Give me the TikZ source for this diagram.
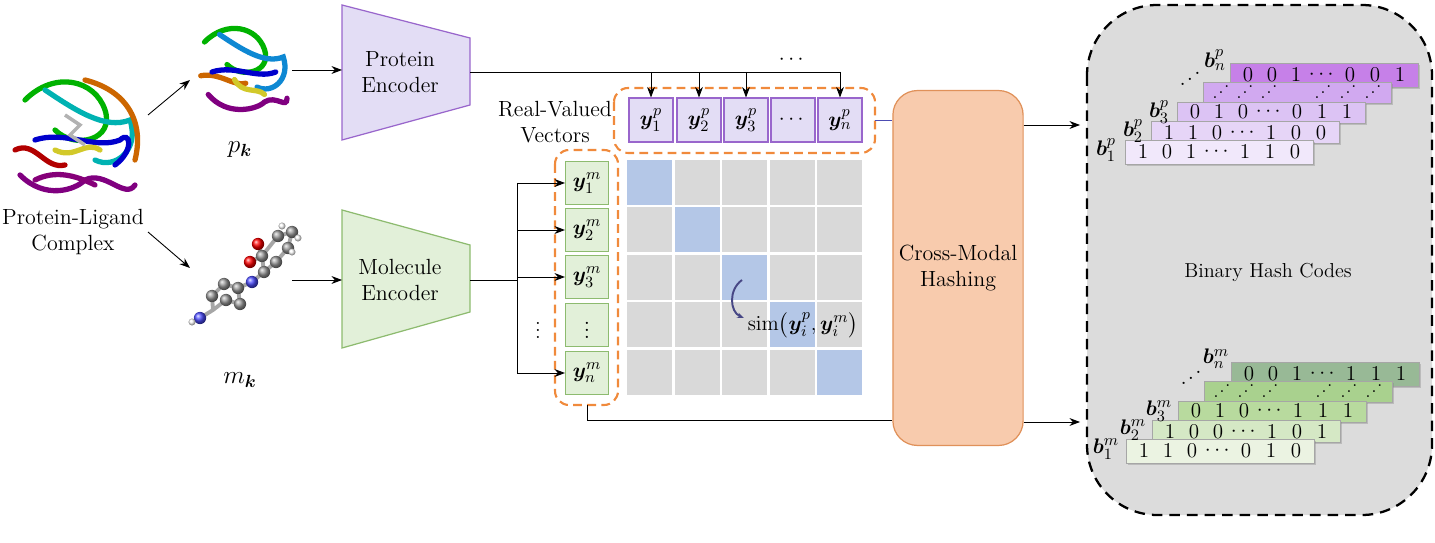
\documentclass[tikz,border=0pt]{standalone}
\usepackage{amsmath,bm}
\usetikzlibrary{arrows.meta,shadows,calc}
\definecolor{plav}{HTML}{E3DDF5}\definecolor{pstr}{HTML}{9966CC}
\definecolor{glav}{HTML}{E2F0D9}\definecolor{gstr}{HTML}{8DBB6F}
\definecolor{cell}{HTML}{D9D9D9}\definecolor{diag}{HTML}{B4C7E7}
\definecolor{orng}{HTML}{F08A3C}\definecolor{cmh}{HTML}{F8CBAD}\definecolor{cmhs}{HTML}{E0915A}
\definecolor{bg}{HTML}{DCDCDC}
\definecolor{pa}{HTML}{F1E8FB}\definecolor{pb}{HTML}{E6D5F7}\definecolor{pc}{HTML}{DCC3F4}\definecolor{pd}{HTML}{D1A9F0}\definecolor{pe}{HTML}{C680E8}
\definecolor{ma}{HTML}{EBF3E2}\definecolor{mb}{HTML}{D5E8C5}\definecolor{mc}{HTML}{B8DA9E}\definecolor{md}{HTML}{A9D18E}\definecolor{me}{HTML}{98B996}
\tikzset{
 x=0.02cm,y=-0.02cm,
 arr/.style={-{Stealth[length=6pt,width=4.5pt]},line width=0.5pt},
 ln/.style={line width=0.5pt},
 pv/.style={draw=pstr,fill=plav,line width=0.6pt,minimum width=0.88cm,minimum height=0.88cm,inner sep=0pt,font=\fontsize{13}{15}\selectfont},
 mv/.style={draw=gstr,fill=glav,line width=0.6pt,minimum width=0.86cm,minimum height=0.86cm,inner sep=0pt,font=\fontsize{13}{15}\selectfont},
 grp/.style={draw=orng,dashed,dash pattern=on 5pt off 3pt,line width=1.2pt,rounded corners=8pt},
 lab/.style={font=\fontsize{12.5}{15}\selectfont,align=center},
 bar/.style={draw=gray!70,line width=0.4pt,drop shadow={shadow xshift=1pt,shadow yshift=-1pt,opacity=0.35}},
 bit/.style={font=\fontsize{12}{14}\selectfont,inner sep=0pt},
 blab/.style={font=\fontsize{13}{15}\selectfont,inner sep=0pt},
 rib/.style={line width=3pt,line cap=round},
 atom/.style={circle,inner sep=0pt,minimum size=7pt,shading=ball},
}
\DeclareRobustCommand{\myiddots}{\mathinner{\raise1pt\hbox{.}\mkern1mu\raise4pt\hbox{.}\mkern1mu\raise7pt\hbox{.}}}
\newcommand{\bitrow}[4]{% left x, top y, name, bits
 \foreach \b [count=\k] in {#4}{
  \pgfmathsetmacro{\off}{{0,18,42,66,93,120,145,170}[\k]}
  \node[bit] (#3-\k) at (#1+\off,#2+12) {$\b$};}}
\newcommand{\dotrow}[3]{%
 \foreach \off [count=\k] in {18,42,66,120,145,170}{
  \node[bit,font=\fontsize{10}{11}\selectfont] (#3-\k) at (#1+\off,#2+11) {$\myiddots$};}}
\begin{document}
\begin{tikzpicture}
\useasboundingbox (0,0) rectangle (1435,543);
% ---------- Protein-ligand complex image ----------
\begin{scope}[shift={(75,140)}]
 \coordinate (cplx) at (0,0);
 \draw[rib,green!70!black] (-50,-40) .. controls (-20,-70) and (20,-60) .. (30,-30) .. controls (40,0) and (0,10) .. (-20,-10);
 \draw[rib,teal!60!cyan] (-30,-50) .. controls (0,-30) and (30,-10) .. (55,-20) .. controls (65,10) and (40,30) .. (20,20);
 \draw[rib,orange!80!black] (10,-60) .. controls (50,-50) and (70,-20) .. (60,20);
 \draw[rib,blue!80!black] (-40,0) .. controls (-10,-10) and (20,10) .. (45,0) .. controls (55,-10) and (60,10) .. (40,25);
 \draw[rib,red!70!black] (-60,10) .. controls (-40,0) and (-30,30) .. (-10,25);
 \draw[rib,yellow!80!black] (-20,10) .. controls (0,20) and (10,0) .. (25,10);
 \draw[rib,violet] (-55,35) .. controls (-30,60) and (0,50) .. (10,40) .. controls (30,30) and (50,60) .. (60,45);
 \draw[rib,purple!70!blue] (-40,40) .. controls (-20,30) and (0,35) .. (20,45);
 \draw[line width=2pt,gray!60] (-10,-25) -- (5,-15) -- (-5,-5) -- (10,5);
\end{scope}
\node[lab] (cplxlab) at (73,232) {Protein-Ligand\\Complex};
% ---------- p_k image ----------
\begin{scope}[shift={(242,72)},scale=0.75]
 \coordinate (pimg) at (0,0);
 \draw[rib,green!70!black] (-50,-40) .. controls (-20,-70) and (20,-60) .. (30,-30) .. controls (40,0) and (0,10) .. (-20,-10);
 \draw[rib,cyan!70!blue] (-30,-50) .. controls (0,-30) and (30,-10) .. (55,-20) .. controls (65,10) and (40,30) .. (20,20);
 \draw[rib,orange!80!black] (-55,5) .. controls (-30,0) and (-10,20) .. (5,15);
 \draw[rib,blue!80!black] (-40,0) .. controls (-10,-10) and (20,10) .. (45,0);
 \draw[rib,yellow!80!black] (-10,10) .. controls (0,30) and (20,20) .. (30,30);
 \draw[rib,violet] (-45,30) .. controls (-20,60) and (20,50) .. (30,40) .. controls (45,30) and (60,50) .. (60,35);
\end{scope}
\node[font=\fontsize{14}{16}\selectfont] (pk) at (240,150) {$p_{\bm k}$};
% ---------- molecule image ----------
\coordinate (a1) at (200,318);\coordinate (a2) at (213,310);\coordinate (a3) at (226,300);
\coordinate (a4) at (240,304);\coordinate (a5) at (238,288);\coordinate (a6) at (224,284);\coordinate (a7) at (212,296);
\coordinate (a8) at (252,282);\coordinate (a9) at (264,272);\coordinate (a10) at (262,256);\coordinate (a11) at (276,262);
\coordinate (a12) at (288,248);\coordinate (a13) at (278,236);\coordinate (a14) at (292,232);\coordinate (a15) at (250,262);\coordinate (a16) at (258,244);
\draw[line width=2.2pt,gray!70] (a1)--(a2)--(a3)--(a4)--(a5)--(a6)--(a7)--(a2) (a5)--(a8)--(a9)--(a10)--(a13)--(a14) (a9)--(a11)--(a12)--(a14) (a10)--(a15) (a10)--(a16);
\foreach \c in {a3,a4,a5,a6,a7,a9,a10,a11,a12,a13,a14} \node[atom,ball color=gray!80] at (\c) {};
\node[atom,ball color=blue!70] at (a1) {};\node[atom,ball color=blue!70] at (a8) {};
\node[atom,ball color=red] at (a15) {};\node[atom,ball color=red] at (a16) {};
\node[atom,ball color=white,minimum size=4pt] at (292,252) {};\node[atom,ball color=white,minimum size=4pt] at (298,238) {};
\node[atom,ball color=white,minimum size=4pt] at (282,226) {};\node[atom,ball color=white,minimum size=4pt] at (192,322) {};
\coordinate (mimg) at (245,280);
\node[font=\fontsize{14}{16}\selectfont] (mk) at (240,380) {$m_{\bm k}$};
% arrows left
\coordinate (c1) at (148,115);\coordinate (c2) at (190,80);\coordinate (c3) at (148,232);\coordinate (c4) at (190,268);
\draw[arr] (c1) -- (c2); \draw[arr] (c3) -- (c4);
\coordinate (p1) at (292,70);\coordinate (m1) at (292,280);
% ---------- encoders ----------
\draw[draw=pstr,fill=plav,line width=0.7pt] (342,5) -- (470,38) -- (470,105) -- (342,140) -- cycle;
\node[lab] (penc) at (400,72) {Protein\\Encoder};
\draw[draw=gstr,fill=glav,line width=0.7pt] (342,210) -- (470,245) -- (470,312) -- (342,348) -- cycle;
\node[lab] (menc) at (400,280) {Molecule\\Encoder};
\coordinate (pin) at (342,70);\coordinate (min) at (342,280);
\draw[arr] (p1) -- (pin); \draw[arr] (m1) -- (min);
% ---------- y^p ----------
\node[pv] (yp1) at (651,120) {$\bm y^{p}_{1}$};
\node[pv] (yp2) at (699,120) {$\bm y^{p}_{2}$};
\node[pv] (yp3) at (746,120) {$\bm y^{p}_{3}$};
\node[pv] (yp4) at (793,120) {$\cdots$};
\node[pv] (yp5) at (840,120) {$\bm y^{p}_{n}$};
\draw[grp] (614,88) rectangle (875,153);
\coordinate (pgR) at (875,120);
\coordinate (pout) at (470,72);
\draw[ln] (pout) -- (840,72);
\foreach \i in {1,2,3,5} \draw[arr] (yp\i |- pout) -- (yp\i.north);
\node[font=\fontsize{12}{12}\selectfont] (pdots) at (793,60) {$\cdots$};
\node[lab] (rvv) at (555,122) {Real-Valued\\Vectors};
% ---------- y^m ----------
\node[mv] (ym1) at (587,183) {$\bm y^{m}_{1}$};
\node[mv] (ym2) at (587,230) {$\bm y^{m}_{2}$};
\node[mv] (ym3) at (587,277) {$\bm y^{m}_{3}$};
\node[mv] (ym4) at (587,325) {$\vdots$};
\node[mv] (ym5) at (587,373) {$\bm y^{m}_{n}$};
\draw[grp] (555,150) rectangle (618,405);
\coordinate (mout) at (470,280);\coordinate (mv) at (517,280);
\draw[ln] (mout) -- (mv);
\draw[ln] (517,183) -- (517,373);
\foreach \i in {1,2,3,5} \draw[arr] (517,0 |- ym\i) -- (ym\i.west);
\node[font=\fontsize{12}{12}\selectfont] (mdots) at (538,325) {$\vdots$};
% ---------- matrix ----------
\foreach \r in {1,...,5} \foreach \c in {1,...,5}{
 \ifnum\r=\c \def\cc{diag}\else\def\cc{cell}\fi
 \fill[\cc] ({627+(\c-1)*47.5},{160+(\r-1)*47.5}) rectangle ++(45,45);
 \coordinate (cell\r\c) at ({649.5+(\c-1)*47.5},{182.5+(\r-1)*47.5});}
\draw[line width=1.1pt,draw=blue!30!gray!80!black,-{Stealth[length=4pt]}] (742,280) .. controls (728,290) and (730,312) .. (744,318);
\node[font=\fontsize{13}{15}\selectfont,inner sep=0pt] (sim) at (803,325) {$\mathrm{sim}\big(\bm y^{p}_{i},\bm y^{m}_{i}\big)$};
% ---------- cross-modal ----------
\node[draw=cmhs,fill=cmh,line width=0.7pt,rounded corners=14pt,minimum width=2.58cm,minimum height=7.1cm,lab] (cmh) at (958,268) {Cross-Modal\\Hashing};
\draw[ln,draw=blue!40!gray] (pgR) -- (cmh.west |- pgR);
\coordinate (mgB) at (587,405);
\draw[ln] (mgB) -- (587,420) -- (cmh.west |- 0,420);
% ---------- binary hash codes ----------
\draw[fill=bg,dashed,dash pattern=on 6pt off 4pt,line width=1.3pt,rounded corners=40pt] (1087,5) rectangle (1432,515);
\node[lab,font=\fontsize{11.5}{13}\selectfont] (bhc) at (1268,272) {Binary Hash Codes};
\draw[arr] (cmh.east |- 0,125) -- (1080,125);
\draw[arr] (cmh.east |- 0,422) -- (1080,422);
% protein codes
\fill[bar,fill=pe] (1230,63) rectangle ++(188,24); \bitrow{1230}{63}{pn}{0,0,1,\cdots,0,0,1}
\fill[bar,fill=pd] (1203,82) rectangle ++(188,21); \dotrow{1203}{82}{pd}
\fill[bar,fill=pc] (1177,102) rectangle ++(188,21); \bitrow{1177}{100}{p3}{0,1,0,\cdots,0,1,1}
\fill[bar,fill=pb] (1151,121) rectangle ++(188,22); \bitrow{1151}{121}{p2}{1,1,0,\cdots,1,0,0}
\fill[bar,fill=pa] (1125,140) rectangle ++(188,24); \bitrow{1125}{140}{p1}{1,0,1,\cdots,1,1,0}
\node[blab] (bp1) at (1106,150) {$\bm b^{p}_{1}$};
\node[blab] (bp2) at (1133,131) {$\bm b^{p}_{2}$};
\node[blab] (bp3) at (1159,112) {$\bm b^{p}_{3}$};
\node[blab] (bpd) at (1190,80) {$\myiddots$};
\node[blab] (bpn) at (1215,60) {$\bm b^{p}_{n}$};
% molecule codes
\fill[bar,fill=me] (1231,362) rectangle ++(188,24); \bitrow{1231}{362}{mn}{0,0,1,\cdots,1,1,1}
\fill[bar,fill=md] (1204,381) rectangle ++(188,21); \dotrow{1204}{381}{mdd}
\fill[bar,fill=mc] (1178,401) rectangle ++(188,21); \bitrow{1178}{399}{m3}{0,1,0,\cdots,1,1,1}
\fill[bar,fill=mb] (1152,420) rectangle ++(188,22); \bitrow{1152}{420}{m2}{1,0,0,\cdots,1,0,1}
\fill[bar,fill=ma] (1126,439) rectangle ++(188,24); \bitrow{1126}{439}{m1}{1,1,0,\cdots,0,1,0}
\node[blab] (bm1) at (1106,449) {$\bm b^{m}_{1}$};
\node[blab] (bm2) at (1133,430) {$\bm b^{m}_{2}$};
\node[blab] (bm3) at (1159,411) {$\bm b^{m}_{3}$};
\node[blab] (bmd) at (1191,379) {$\myiddots$};
\node[blab] (bmn) at (1216,359) {$\bm b^{m}_{n}$};
\end{tikzpicture}
\end{document}
